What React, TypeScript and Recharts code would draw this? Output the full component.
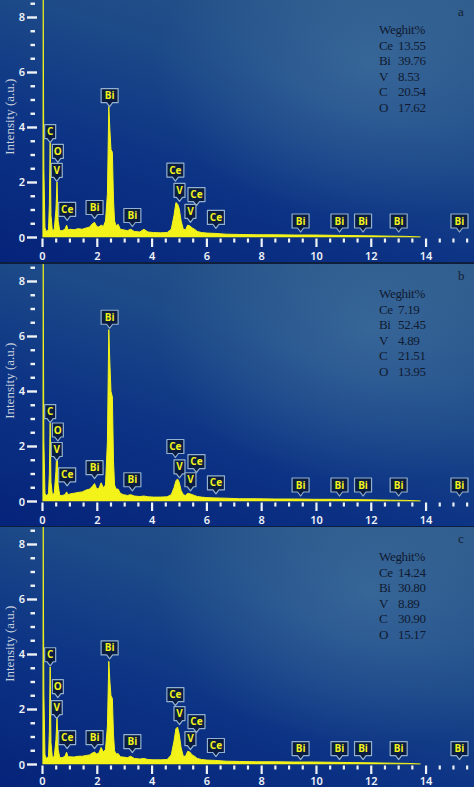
import { ComposedChart, Area, Scatter, XAxis, YAxis } from "recharts";

// energy grid (keV) shared by the three spectra
const energies = [
  0, 0.02, 0.05, 0.09, 0.15, 0.22, 0.25, 0.28, 0.31, 0.36,
  0.43, 0.49, 0.53, 0.57, 0.63, 0.72, 0.82, 0.88, 0.93, 1.02,
  1.15, 1.3, 1.45, 1.6, 1.72, 1.82, 1.9, 1.98, 2.06, 2.14,
  2.22, 2.3, 2.37, 2.42, 2.46, 2.5, 2.55, 2.59, 2.63, 2.69,
  2.76, 2.84, 2.95, 3.1, 3.22, 3.35, 3.55, 3.7, 3.85, 4.05,
  4.3, 4.55, 4.7, 4.8, 4.87, 4.93, 4.99, 5.06, 5.14, 5.22,
  5.3, 5.38, 5.46, 5.55, 5.65, 5.8, 6.0, 6.3, 6.7, 7.2,
  7.8, 8.5, 9.2, 9.9, 10.6, 11.3, 12.0, 12.7, 13.3, 13.8,
];

const intensityA = [
  0, 9.5, 2.5, 0.35, 0.2, 0.3, 1.2, 3.45, 0.8, 0.25,
  0.3, 1.0, 2.02, 0.6, 0.25, 0.25, 0.3, 0.45, 0.28, 0.3,
  0.28, 0.32, 0.3, 0.35, 0.38, 0.5, 0.55, 0.4, 0.38, 0.45,
  0.4, 0.6, 1.6, 4.76, 3.9, 3.2, 3.1, 1.4, 0.6, 0.42,
  0.48, 0.3, 0.28, 0.25, 0.3, 0.22, 0.2, 0.3, 0.2, 0.18,
  0.17, 0.18, 0.3, 0.8, 1.27, 1.22, 1.05, 0.6, 0.3, 0.28,
  0.45, 0.42, 0.35, 0.3, 0.22, 0.18, 0.16, 0.15, 0.12, 0.11,
  0.1, 0.1, 0.09, 0.09, 0.08, 0.07, 0.06, 0.05, 0.04, 0.02,
];

const intensityB = [
  0, 9.5, 2.2, 0.3, 0.2, 0.3, 1.0, 2.85, 0.7, 0.25,
  0.3, 1.1, 2.1, 0.6, 0.22, 0.22, 0.25, 0.35, 0.25, 0.28,
  0.3, 0.33, 0.35, 0.42, 0.45, 0.55, 0.65, 0.45, 0.48, 0.68,
  0.5, 0.6, 2.2, 6.25, 5.0, 4.0, 3.8, 1.5, 0.6, 0.45,
  0.45, 0.3, 0.25, 0.22, 0.25, 0.2, 0.18, 0.2, 0.17, 0.16,
  0.16, 0.17, 0.25, 0.5, 0.75, 0.82, 0.7, 0.4, 0.25, 0.22,
  0.3, 0.28, 0.25, 0.22, 0.18, 0.16, 0.14, 0.13, 0.12, 0.1,
  0.1, 0.09, 0.09, 0.08, 0.08, 0.07, 0.06, 0.05, 0.04, 0.02,
];

const intensityC = [
  0, 9.5, 2.6, 0.35, 0.2, 0.3, 1.2, 3.55, 0.8, 0.25,
  0.3, 0.9, 1.72, 0.55, 0.25, 0.25, 0.3, 0.45, 0.28, 0.28,
  0.27, 0.3, 0.3, 0.33, 0.35, 0.42, 0.45, 0.38, 0.42, 0.62,
  0.45, 0.55, 1.4, 3.75, 3.0, 2.5, 2.4, 1.1, 0.5, 0.38,
  0.4, 0.28, 0.27, 0.25, 0.3, 0.22, 0.2, 0.22, 0.18, 0.17,
  0.17, 0.18, 0.35, 0.85, 1.3, 1.36, 1.1, 0.6, 0.3, 0.3,
  0.48, 0.45, 0.35, 0.3, 0.22, 0.18, 0.16, 0.15, 0.12, 0.11,
  0.1, 0.1, 0.09, 0.09, 0.08, 0.07, 0.06, 0.05, 0.04, 0.02,
];

// peak tags: element, energy, and intensity where the tag's pointer sits
const tagElements = ["C", "O", "V", "Ce", "Bi", "Bi", "Bi", "Ce", "V", "Ce", "V", "Ce", "Bi", "Bi", "Bi", "Bi", "Bi"];
const tagEnergies = [0.28, 0.56, 0.52, 0.9, 1.9, 2.45, 3.28, 4.85, 5.0, 5.62, 5.4, 6.33, 9.42, 10.84, 11.7, 13.0, 15.22];
const tagTipsA = [3.45, 2.73, 2.04, 0.62, 0.69, 4.76, 0.4, 2.05, 1.31, 1.16, 0.55, 0.33, 0.2, 0.2, 0.2, 0.2, 0.2];
const tagTipsB = [2.87, 2.2, 1.49, 0.57, 0.83, 6.3, 0.39, 1.6, 0.86, 1.05, 0.39, 0.28, 0.2, 0.2, 0.2, 0.2, 0.2];
const tagTipsC = [3.59, 2.43, 1.67, 0.58, 0.58, 3.84, 0.43, 2.14, 1.45, 1.16, 0.54, 0.29, 0.18, 0.18, 0.18, 0.18, 0.18];

const weightElements = ["Ce", "Bi", "V", "C", "O"];
const weightsA = ["13.55", "39.76", "8.53", "20.54", "17.62"];
const weightsB = ["7.19", "52.45", "4.89", "21.51", "13.95"];
const weightsC = ["14.24", "30.80", "8.89", "30.90", "15.17"];

const xTicks = [
  0, 0.5, 1, 1.5, 2, 2.5, 3, 3.5, 4, 4.5, 5, 5.5, 6, 6.5, 7, 7.5,
  8, 8.5, 9, 9.5, 10, 10.5, 11, 11.5, 12, 12.5, 13, 13.5, 14, 14.5, 15, 15.5,
];
const yTicks = [0, 0.5, 1, 1.5, 2, 2.5, 3, 3.5, 4, 4.5, 5, 5.5, 6, 6.5, 7, 7.5, 8, 8.5];

const YELLOW = "#f3f31a";
const TICK = "#eef2f7";

function XTick(props: any) {
  const { x, y, payload, labelDy } = props;
  const major = payload.value % 2 === 0;
  return (
    <g>
      <line x1={x} x2={x} y1={y + 1} y2={y + (major ? 9.5 : 5)} stroke={TICK} strokeWidth={2.2} />
      {major && (
        <text x={x} y={y + labelDy} textAnchor="middle" fill={TICK} fontSize={11} fontWeight={600} fontFamily="'Noto Sans', sans-serif">
          {payload.value}
        </text>
      )}
    </g>
  );
}

function YTick(props: any) {
  const { x, y, payload } = props;
  const major = payload.value % 2 === 0;
  return (
    <g>
      <line x1={x - (major ? 15.5 : 12)} x2={x - (major ? 5.5 : 7.5)} y1={y} y2={y} stroke={TICK} strokeWidth={2.4} />
      {major && (
        <text x={x - 17.5} y={y + 4} textAnchor="end" fill={TICK} fontSize={11} fontWeight={600} fontFamily="'Noto Sans', sans-serif">
          {payload.value}
        </text>
      )}
    </g>
  );
}

function Tag(props: any) {
  const { cx, cy, payload } = props;
  const w = payload.el.length > 1 ? 17 : 11;
  const h = 14;
  const top = cy - 4 - h;
  const d = `M${cx - w / 2},${top} H${cx + w / 2} V${cy - 4} H${cx + 3} L${cx},${cy} L${cx - 3},${cy - 4} H${cx - w / 2} Z`;
  return (
    <g>
      <path d={d} fill="#0a1c42" stroke="#94b2cf" strokeWidth={1.2} strokeLinejoin="round" />
      <text x={cx} y={top + h / 2 + 3.6} textAnchor="middle" fill={YELLOW} fontSize={10} fontWeight={700} fontFamily="'Open Sans', sans-serif">
        {payload.el}
      </text>
    </g>
  );
}

interface PanelProps {
  top: number;
  intensity: number[];
  tips: number[];
  weights: string[];
  letter: string;
  labelDy: number;
}

function Panel({ top, intensity, tips, weights, letter, labelDy }: PanelProps) {
  const spectrum = energies.map((e, i) => ({ e, v: intensity[i] }));
  const tags = tagEnergies.map((e, i) => ({ e, v: tips[i], el: tagElements[i] }));
  return (
    <div
      style={{
        position: "absolute",
        left: 0,
        top,
        width: 474,
        height: 262,
        overflow: "hidden",
        background:
          "radial-gradient(ellipse 60% 80% at 78% 25%, rgba(72,120,165,0.55), rgba(72,120,165,0) 75%), linear-gradient(18deg, #05237a 0%, #0c3385 35%, #1d4a88 65%, #2b5887 100%)",
      }}
    >
      <ComposedChart width={474} height={262} data={spectrum} margin={{ top: 0, right: 0, bottom: 0, left: 0 }}>
        <XAxis
          type="number"
          dataKey="e"
          domain={[0, 15.75]}
          ticks={xTicks}
          interval={0}
          tick={<XTick labelDy={labelDy} />}
          tickLine={false}
          axisLine={false}
          tickSize={0}
          tickMargin={0}
          height={24.5}
          allowDataOverflow
        />
        <YAxis
          type="number"
          domain={[0, 8.636]}
          ticks={yTicks}
          interval={0}
          tick={<YTick />}
          tickLine={false}
          axisLine={false}
          tickSize={0}
          tickMargin={0}
          width={42.5}
          allowDataOverflow
          label={{
            content: (p: any) => {
              const vb = p.viewBox;
              const cx = vb.x + 9;
              const cy = vb.y + vb.height / 2 - 2;
              return (
                <text x={cx} y={cy} transform={`rotate(-90 ${cx} ${cy})`} textAnchor="middle" dominantBaseline="central" fill="#c9d3de" fontSize={13} fontFamily="'Liberation Serif', serif">
                  Intensity (a.u.)
                </text>
              );
            },
          }}
        />
        <Area
          type="linear"
          dataKey="v"
          stroke={YELLOW}
          strokeWidth={1}
          fill={YELLOW}
          fillOpacity={1}
          dot={false}
          activeDot={false}
          isAnimationActive={false}
        />
        <Scatter data={tags} dataKey="v" shape={<Tag />} isAnimationActive={false} />
      </ComposedChart>
      <div
        style={{
          position: "absolute",
          left: 379,
          top: 22,
          color: "#101a30",
          fontFamily: "'Liberation Serif', serif",
          fontSize: 13,
          lineHeight: "15.5px",
          letterSpacing: -0.3,
        }}
      >
        <div>Weghit%</div>
        {weightElements.map((el, i) => (
          <div key={el} style={{ display: "flex" }}>
            <span style={{ width: 19 }}>{el}</span>
            <span>{weights[i]}</span>
          </div>
        ))}
      </div>
      <div
        style={{
          position: "absolute",
          left: 458,
          top: 4,
          color: "#141e34",
          fontFamily: "'Liberation Serif', serif",
          fontSize: 13,
        }}
      >
        {letter}
      </div>
    </div>
  );
}

export default function App() {
  return (
    <div style={{ position: "fixed", left: 0, top: 0, width: 474, height: 787, overflow: "hidden", background: "#0d1f3c" }}>
      <Panel top={0} intensity={intensityA} tips={tagTipsA} weights={weightsA} letter="a" labelDy={22} />
      <Panel top={264} intensity={intensityB} tips={tagTipsB} weights={weightsB} letter="b" labelDy={22} />
      <Panel top={527} intensity={intensityC} tips={tagTipsC} weights={weightsC} letter="c" labelDy={20} />
    </div>
  );
}
